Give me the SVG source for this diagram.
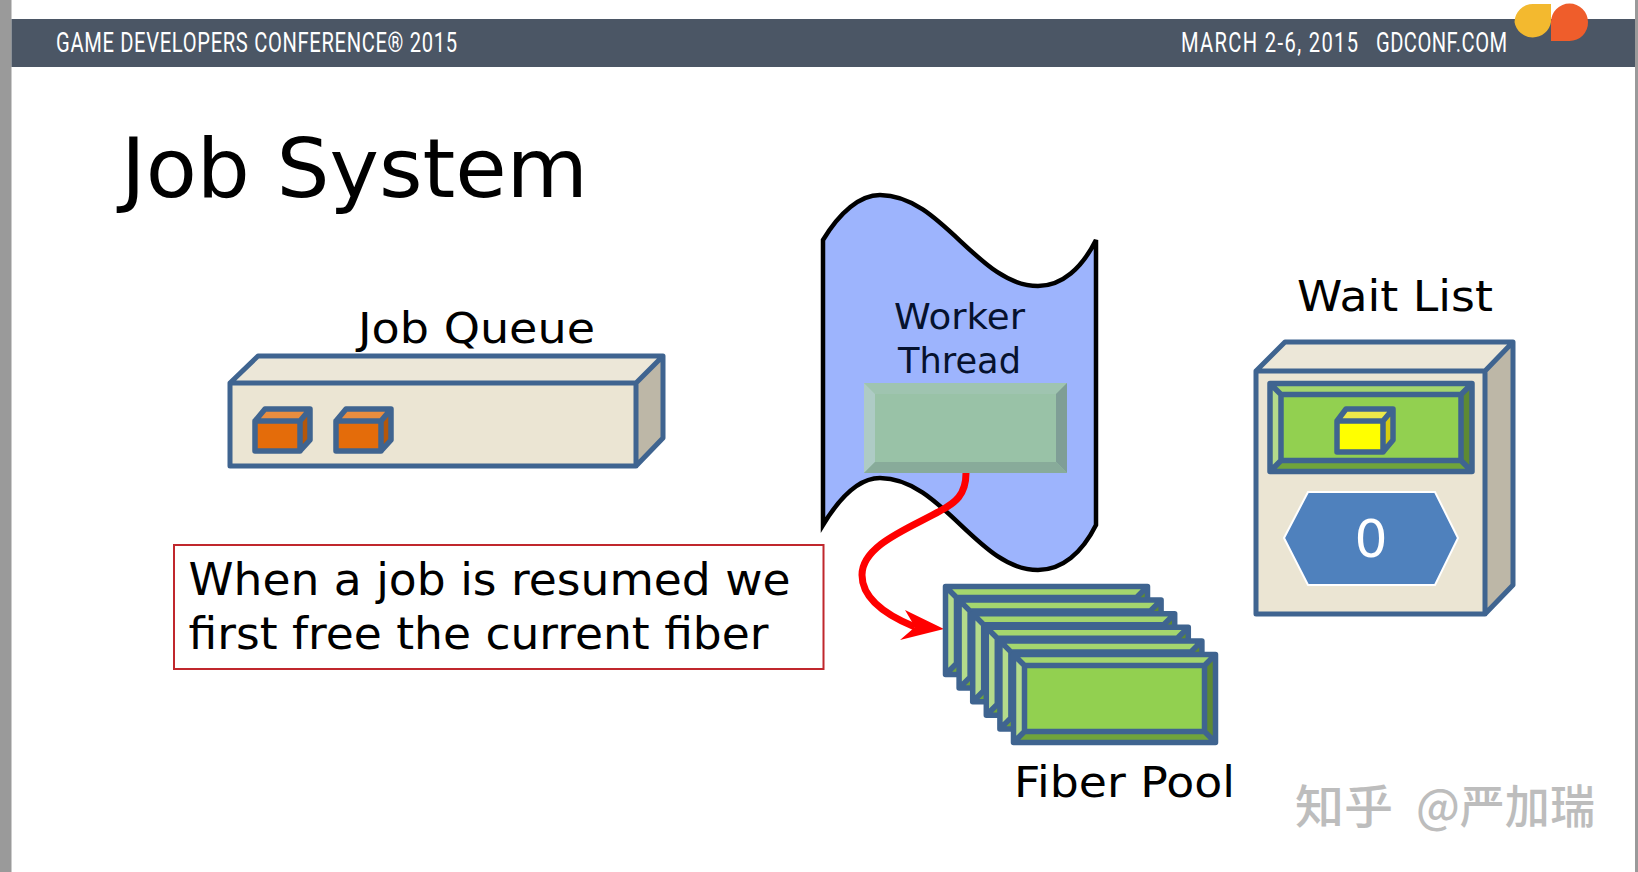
<svg xmlns="http://www.w3.org/2000/svg" xmlns:xlink="http://www.w3.org/1999/xlink" width="1638" height="872" viewBox="0 0 1638 872">
<style>
text{font-family:"DejaVu Sans","Liberation Sans",sans-serif;fill:#000}
.hdr{font-family:Roboto,"Liberation Sans",sans-serif;font-weight:400;font-size:28px;fill:#fff}
.lbl{font-size:43px}
.b2{stroke:#3f6490;stroke-width:5;stroke-linejoin:round;fill:none}
.b3{stroke:#3f6490;stroke-width:5.500;stroke-linejoin:round;fill:none}
</style>
<defs>
<marker id="stealth" markerUnits="userSpaceOnUse" markerWidth="60" markerHeight="60" refX="0" refY="0" orient="0" overflow="visible">
<path d="M29 2L-10 -17L0 0L-15 13Z" fill="#f00"/>
</marker>
<g id="frame">
<rect x="0" y="0" width="202" height="88" fill="#92d050"/>
<path d="M0 0H202L191 11H11Z" fill="#a4d66e"/>
<path d="M0 0V88L11 77V11Z" fill="#b4db8b"/>
<path d="M202 0V88L191 77V11Z" fill="#5e8a33"/>
<path d="M0 88H202L191 77H11Z" fill="#70a43b"/>
<path class="b3" d="M0 0H202V88H0ZM11 11H191V77H11ZM0 0L11 11M202 0L191 11M0 88L11 77M202 88L191 77"/>
</g>
</defs>
<rect width="1638" height="872" fill="#fff"/>
<rect x="0" y="0" width="11.500" height="872" fill="#9a9a9a"/>
<rect x="1635" y="0" width="3" height="872" fill="#9a9a9a"/>
<g id="header">
<rect x="11.500" y="19" width="1623.500" height="48" fill="#4b5665"/>
<text class="hdr" transform="translate(56 52) scale(.72 1)" textLength="557" lengthAdjust="spacing">GAME DEVELOPERS CONFERENCE® 2015</text>
<text class="hdr" transform="translate(1181 52) scale(.72 1)" textLength="246" lengthAdjust="spacing">MARCH 2-6, 2015</text>
<text class="hdr" transform="translate(1376 52) scale(.72 1)" textLength="182" lengthAdjust="spacing">GDCONF.COM</text>
<path d="M1533 4H1551V22A18.500 18.500 0 0 1 1514.500 22A18.500 18.500 0 0 1 1533 4Z" fill="#f3b92f"/>
<path d="M1551 41V22A18.500 18.500 0 0 1 1588 22A18.500 18.500 0 0 1 1569.500 41Z" fill="#ef5d2b"/>
</g>
<text id="title" x="121" y="197" font-size="82" textLength="467" lengthAdjust="spacingAndGlyphs">Job System</text>
<g id="job-queue">
<path d="M230 383L258 356H663L636 383Z" fill="#ece7d8"/>
<path d="M636 383L663 356V438L636 466Z" fill="#bdb7a7"/>
<rect x="230" y="383" width="406" height="83" fill="#ebe5d3"/>
<path class="b2" d="M230 383H636V466H230ZM230 383L258 356H663V438L636 466M636 383L663 356"/>
<text class="lbl" x="358" y="343" textLength="237" lengthAdjust="spacingAndGlyphs">Job Queue</text>
</g>
<g id="job-1">
<path d="M255 421L265 409H310L300 421Z" fill="#e98d3f"/>
<path d="M300 421L310 409V440L300 451Z" fill="#b5570a"/>
<rect x="255" y="421" width="45" height="30" fill="#e46c0a"/>
<path class="b3" d="M255 421H300V451H255ZM255 421L265 409H310V440L300 451M300 421L310 409"/>
</g>
<g id="job-2">
<path d="M336 421L346 409H391L381 421Z" fill="#e98d3f"/>
<path d="M381 421L391 409V440L381 451Z" fill="#b5570a"/>
<rect x="336" y="421" width="45" height="30" fill="#e46c0a"/>
<path class="b3" d="M336 421H381V451H336ZM336 421L346 409H391V440L381 451M381 421L391 409"/>
</g>
<g id="worker-thread">
<path d="M823 240C840 212 860 195 880 195C942 195 978 286 1038 286C1062 286 1082 268 1096 240V525C1082 553 1062 570 1038 570C978 570 942 478 880 478C860 478 840 497 823 525Z" fill="#9db4fd" stroke="#000" stroke-width="4.500" stroke-linejoin="miter"/>
<text x="894" y="329" font-size="35" textLength="131" lengthAdjust="spacingAndGlyphs" style="fill:#06122e">Worker</text>
<text x="898" y="373" font-size="35" textLength="123" lengthAdjust="spacingAndGlyphs" style="fill:#06122e">Thread</text>
<rect x="864" y="383" width="203" height="90" fill="#99c2a7"/>
<path d="M864 383H1067L1056 394H875Z" fill="#9fc4b0"/>
<path d="M864 383V473L875 462V394Z" fill="#aecbc5"/>
<path d="M1067 383V473L1056 462V394Z" fill="#7f9e96"/>
<path d="M864 473H1067L1056 462H875Z" fill="#88ab9a"/>
</g>
<g id="connectors">
<path d="M966 473C966 495 955 503 940 511C910 528 862 545 862 575C862 600 888 616 915 627" fill="none" stroke="#f00" stroke-width="7" marker-end="url(#stealth)"/>
</g>
<g id="note">
<rect x="174" y="545" width="649.500" height="124" fill="#fff" stroke="#c0272d" stroke-width="2"/>
<text x="188.500" y="595" font-size="44" textLength="602" lengthAdjust="spacingAndGlyphs">When a job is resumed we</text>
<text x="188.500" y="649" font-size="44" textLength="580" lengthAdjust="spacingAndGlyphs">first free the current fiber</text>
</g>
<g id="wait-list">
<text class="lbl" x="1297" y="311" font-size="44" textLength="196" lengthAdjust="spacingAndGlyphs">Wait List</text>
<path d="M1256 371L1285 342H1513L1485 371Z" fill="#ece7d8"/>
<path d="M1485 371L1513 342V585L1485 614Z" fill="#bdb7a7"/>
<rect x="1256" y="371" width="229" height="243" fill="#ebe5d3"/>
<path class="b2" d="M1256 371H1485V614H1256ZM1256 371L1285 342H1513V585L1485 614M1485 371L1513 342"/>
<use xlink:href="#frame" href="#frame" x="1270" y="383.500"/>
<path d="M1337 421L1346 409H1393L1383 421Z" fill="#ece84a"/>
<path d="M1383 421L1393 409V440L1383 452Z" fill="#d6cc10"/>
<rect x="1337" y="421" width="46" height="31" fill="#ff0"/>
<path class="b3" d="M1337 421H1383V452H1337ZM1337 421L1346 409H1393V440L1383 452M1383 421L1393 409"/>
<path d="M1284 538L1308 492H1435L1458 538L1435 585H1308Z" fill="#4f81bd" stroke="#fff" stroke-width="2"/>
<text x="1371" y="557" font-size="52" text-anchor="middle" style="fill:#fff">0</text>
</g>
<g id="fiber-pool">
<use xlink:href="#frame" href="#frame" x="945.500" y="586.500"/>
<use xlink:href="#frame" href="#frame" x="959.100" y="600.100"/>
<use xlink:href="#frame" href="#frame" x="972.700" y="613.700"/>
<use xlink:href="#frame" href="#frame" x="986.300" y="627.300"/>
<use xlink:href="#frame" href="#frame" x="999.900" y="640.900"/>
<use xlink:href="#frame" href="#frame" x="1013.500" y="654.500"/>
<text class="lbl" x="1014" y="797" textLength="221" lengthAdjust="spacingAndGlyphs">Fiber Pool</text>
</g>
<g id="watermark" style="font-weight:500">
<text x="1295" y="823" font-size="46" textLength="98" lengthAdjust="spacingAndGlyphs" style="font-family:'Noto Sans CJK SC',sans-serif;fill:#bdbdbd">知乎</text>
<text x="1416" y="823" font-size="46" textLength="179" lengthAdjust="spacingAndGlyphs" style="font-family:'Noto Sans CJK SC',sans-serif;fill:#bdbdbd">@严加瑞</text>
</g>
</svg>
